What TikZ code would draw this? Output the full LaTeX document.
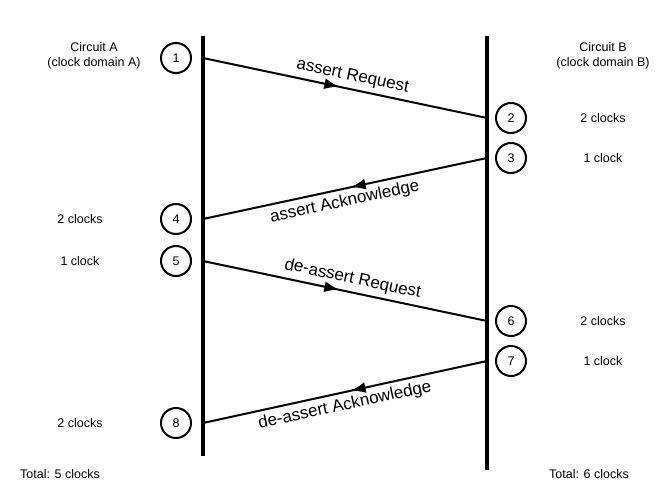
\documentclass[tikz,border=0pt]{standalone}
\usepackage{fontspec}
\setmainfont{Liberation Sans}
\usetikzlibrary{decorations.markings,arrows.meta}
\begin{document}
\begin{tikzpicture}[x=1pt,y=-1pt,
  num/.style={circle,draw,line width=2pt,minimum size=30pt,inner sep=0pt,font=\fontsize{12.5}{14}\selectfont},
  small/.style={font=\fontsize{12.5}{14.5}\selectfont,align=center},
  lab/.style={font=\fontsize{17}{19}\selectfont,sloped},
  msg/.style={line width=2pt,postaction={decorate},decoration={markings,mark=at position 0.48 with {\arrow{Latex[length=15pt,width=11pt]}}}},
  bar/.style={line width=4pt}]
\useasboundingbox (0,0) rectangle (662,498);
\coordinate (lt) at (203,36); \coordinate (lb) at (203,456);
\coordinate (rt) at (487,36); \coordinate (rb) at (487,470);
\draw[bar] (lt) -- (lb);
\draw[bar] (rt) -- (rb);
\node[num] (n1) at (176,58) {1};
\node[num] (n4) at (176,219) {4};
\node[num] (n5) at (176,261) {5};
\node[num] (n8) at (176,423) {8};
\node[num] (n2) at (511,118) {2};
\node[num] (n3) at (511,158) {3};
\node[num] (n6) at (511,321) {6};
\node[num] (n7) at (511,361) {7};
\coordinate (a1) at (203,58); \coordinate (a4) at (203,219);
\coordinate (a5) at (203,261); \coordinate (a8) at (203,423);
\coordinate (b2) at (487,118); \coordinate (b3) at (487,158);
\coordinate (b6) at (487,321); \coordinate (b7) at (487,361);
\draw[msg] (a1) -- node[lab,above=1pt,pos=0.5,xshift=5pt] {assert Request} (b2);
\draw[msg] (b3) -- node[lab,below=1pt,pos=0.5,xshift=-3pt] {assert Acknowledge} (a4);
\draw[msg] (a5) -- node[lab,above=1pt,pos=0.5,xshift=5pt] {de-assert Request} (b6);
\draw[msg] (b7) -- node[lab,below=1pt,pos=0.5,xshift=-3pt] {de-assert Acknowledge} (a8);
\node[small] (ca) at (94,56) {Circuit A\\(clock domain A)};
\node[small] (cb) at (603,56) {Circuit B\\(clock domain B)};
\node[small] (t4) at (80,219) {2 clocks};
\node[small] (t5) at (80,261) {1 clock};
\node[small] (t8) at (80,423) {2 clocks};
\node[small] (t2) at (603,118) {2 clocks};
\node[small] (t3) at (603,158) {1 clock};
\node[small] (t6) at (603,321) {2 clocks};
\node[small] (t7) at (603,361) {1 clock};
\node[small] (ta) at (60,474) {Total: 5 clocks};
\node[small] (tb) at (589,474) {Total: 6 clocks};
\end{tikzpicture}
\end{document}
